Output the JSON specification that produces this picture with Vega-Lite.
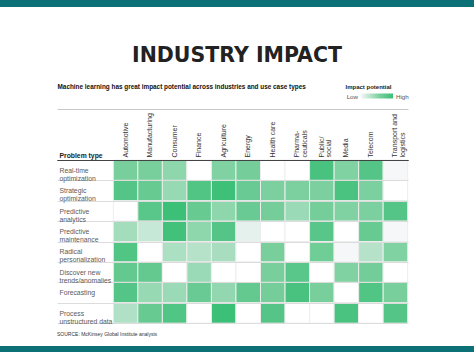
{
  "$schema": "https://vega.github.io/schema/vega-lite/v6.json",
  "width": 474,
  "height": 352,
  "padding": 0,
  "autosize": {"type": "none"},
  "background": "white",
  "config": {
    "view": {"stroke": null},
    "font": "Liberation Sans",
    "axis": {"labelFont": "Liberation Sans", "titleFont": "Liberation Sans"}
  },
  "datasets": {
    "impact": [
      {"problem": "Real-time optimization", "industry": "Automotive", "impact": 3},
      {"problem": "Real-time optimization", "industry": "Manufacturing", "impact": 3},
      {"problem": "Real-time optimization", "industry": "Consumer", "impact": 2.5},
      {"problem": "Real-time optimization", "industry": "Finance", "impact": 0},
      {"problem": "Real-time optimization", "industry": "Agriculture", "impact": 2.8},
      {"problem": "Real-time optimization", "industry": "Energy", "impact": 3.1},
      {"problem": "Real-time optimization", "industry": "Health care", "impact": 0},
      {"problem": "Real-time optimization", "industry": "Pharmaceuticals", "impact": 0},
      {"problem": "Real-time optimization", "industry": "Public/social", "impact": 4.6},
      {"problem": "Real-time optimization", "industry": "Media", "impact": 2.8},
      {"problem": "Real-time optimization", "industry": "Telecom", "impact": 4.2},
      {"problem": "Real-time optimization", "industry": "Transport and logistics", "impact": 0.1},
      {"problem": "Strategic optimization", "industry": "Automotive", "impact": 4.2},
      {"problem": "Strategic optimization", "industry": "Manufacturing", "impact": 3.6},
      {"problem": "Strategic optimization", "industry": "Consumer", "impact": 2.3},
      {"problem": "Strategic optimization", "industry": "Finance", "impact": 4.3},
      {"problem": "Strategic optimization", "industry": "Agriculture", "impact": 4.9},
      {"problem": "Strategic optimization", "industry": "Energy", "impact": 3.5},
      {"problem": "Strategic optimization", "industry": "Health care", "impact": 2.9},
      {"problem": "Strategic optimization", "industry": "Pharmaceuticals", "impact": 2.9},
      {"problem": "Strategic optimization", "industry": "Public/social", "impact": 2.9},
      {"problem": "Strategic optimization", "industry": "Media", "impact": 4.5},
      {"problem": "Strategic optimization", "industry": "Telecom", "impact": 2.9},
      {"problem": "Strategic optimization", "industry": "Transport and logistics", "impact": 0},
      {"problem": "Predictive analytics", "industry": "Automotive", "impact": 0},
      {"problem": "Predictive analytics", "industry": "Manufacturing", "impact": 4},
      {"problem": "Predictive analytics", "industry": "Consumer", "impact": 5},
      {"problem": "Predictive analytics", "industry": "Finance", "impact": 3.6},
      {"problem": "Predictive analytics", "industry": "Agriculture", "impact": 2.5},
      {"problem": "Predictive analytics", "industry": "Energy", "impact": 3.5},
      {"problem": "Predictive analytics", "industry": "Health care", "impact": 3.1},
      {"problem": "Predictive analytics", "industry": "Pharmaceuticals", "impact": 2.2},
      {"problem": "Predictive analytics", "industry": "Public/social", "impact": 3.1},
      {"problem": "Predictive analytics", "industry": "Media", "impact": 2.8},
      {"problem": "Predictive analytics", "industry": "Telecom", "impact": 2.9},
      {"problem": "Predictive analytics", "industry": "Transport and logistics", "impact": 4.2},
      {"problem": "Predictive maintenance", "industry": "Automotive", "impact": 2},
      {"problem": "Predictive maintenance", "industry": "Manufacturing", "impact": 1.2},
      {"problem": "Predictive maintenance", "industry": "Consumer", "impact": 4.8},
      {"problem": "Predictive maintenance", "industry": "Finance", "impact": 2.5},
      {"problem": "Predictive maintenance", "industry": "Agriculture", "impact": 4.2},
      {"problem": "Predictive maintenance", "industry": "Energy", "impact": 0.5},
      {"problem": "Predictive maintenance", "industry": "Health care", "impact": 0},
      {"problem": "Predictive maintenance", "industry": "Pharmaceuticals", "impact": 0},
      {"problem": "Predictive maintenance", "industry": "Public/social", "impact": 4.1},
      {"problem": "Predictive maintenance", "industry": "Media", "impact": 0},
      {"problem": "Predictive maintenance", "industry": "Telecom", "impact": 3.6},
      {"problem": "Predictive maintenance", "industry": "Transport and logistics", "impact": 0.1},
      {"problem": "Radical personalization", "industry": "Automotive", "impact": 4.3},
      {"problem": "Radical personalization", "industry": "Manufacturing", "impact": 0},
      {"problem": "Radical personalization", "industry": "Consumer", "impact": 1.8},
      {"problem": "Radical personalization", "industry": "Finance", "impact": 1.6},
      {"problem": "Radical personalization", "industry": "Agriculture", "impact": 1.9},
      {"problem": "Radical personalization", "industry": "Energy", "impact": 0},
      {"problem": "Radical personalization", "industry": "Health care", "impact": 3},
      {"problem": "Radical personalization", "industry": "Pharmaceuticals", "impact": 0},
      {"problem": "Radical personalization", "industry": "Public/social", "impact": 3.3},
      {"problem": "Radical personalization", "industry": "Media", "impact": 0.1},
      {"problem": "Radical personalization", "industry": "Telecom", "impact": 1.6},
      {"problem": "Radical personalization", "industry": "Transport and logistics", "impact": 2.8},
      {"problem": "Discover new trends/anomalies", "industry": "Automotive", "impact": 3.7},
      {"problem": "Discover new trends/anomalies", "industry": "Manufacturing", "impact": 3.7},
      {"problem": "Discover new trends/anomalies", "industry": "Consumer", "impact": 0},
      {"problem": "Discover new trends/anomalies", "industry": "Finance", "impact": 2.2},
      {"problem": "Discover new trends/anomalies", "industry": "Agriculture", "impact": 0},
      {"problem": "Discover new trends/anomalies", "industry": "Energy", "impact": 0},
      {"problem": "Discover new trends/anomalies", "industry": "Health care", "impact": 3},
      {"problem": "Discover new trends/anomalies", "industry": "Pharmaceuticals", "impact": 4},
      {"problem": "Discover new trends/anomalies", "industry": "Public/social", "impact": 0},
      {"problem": "Discover new trends/anomalies", "industry": "Media", "impact": 2.8},
      {"problem": "Discover new trends/anomalies", "industry": "Telecom", "impact": 3.2},
      {"problem": "Discover new trends/anomalies", "industry": "Transport and logistics", "impact": 0},
      {"problem": "Forecasting", "industry": "Automotive", "impact": 4.2},
      {"problem": "Forecasting", "industry": "Manufacturing", "impact": 2.3},
      {"problem": "Forecasting", "industry": "Consumer", "impact": 2.2},
      {"problem": "Forecasting", "industry": "Finance", "impact": 3.5},
      {"problem": "Forecasting", "industry": "Agriculture", "impact": 2.4},
      {"problem": "Forecasting", "industry": "Energy", "impact": 3.7},
      {"problem": "Forecasting", "industry": "Health care", "impact": 3.1},
      {"problem": "Forecasting", "industry": "Pharmaceuticals", "impact": 4.6},
      {"problem": "Forecasting", "industry": "Public/social", "impact": 3},
      {"problem": "Forecasting", "industry": "Media", "impact": 0},
      {"problem": "Forecasting", "industry": "Telecom", "impact": 4.3},
      {"problem": "Forecasting", "industry": "Transport and logistics", "impact": 3},
      {"problem": "Process unstructured data", "industry": "Automotive", "impact": 1.7},
      {"problem": "Process unstructured data", "industry": "Manufacturing", "impact": 3.6},
      {"problem": "Process unstructured data", "industry": "Consumer", "impact": 4.3},
      {"problem": "Process unstructured data", "industry": "Finance", "impact": 0},
      {"problem": "Process unstructured data", "industry": "Agriculture", "impact": 5},
      {"problem": "Process unstructured data", "industry": "Energy", "impact": 0},
      {"problem": "Process unstructured data", "industry": "Health care", "impact": 4.2},
      {"problem": "Process unstructured data", "industry": "Pharmaceuticals", "impact": 0},
      {"problem": "Process unstructured data", "industry": "Public/social", "impact": 0},
      {"problem": "Process unstructured data", "industry": "Media", "impact": 4.5},
      {"problem": "Process unstructured data", "industry": "Telecom", "impact": 0},
      {"problem": "Process unstructured data", "industry": "Transport and logistics", "impact": 4.2}
    ],
    "header": [{"section": "Column headers"}]
  },
  "resolve": {
    "scale": {"x": "independent", "y": "independent"},
    "axis": {"x": "independent", "y": "independent"}
  },
  "layer": [
    {
      "data": {"name": "impact"},
      "mark": {"type": "rect", "stroke": "#eceeed", "strokeWidth": 1},
      "encoding": {
        "x": {
          "field": "industry", "type": "nominal",
          "scale": {"domain": ["Automotive", "Manufacturing", "Consumer", "Finance", "Agriculture", "Energy", "Health care", "Pharmaceuticals", "Public/social", "Media", "Telecom", "Transport and logistics"], "range": [113.3, 407.7], "paddingInner": 0, "paddingOuter": 0},
          "axis": {
            "orient": "top", "offset": -160, "domain": false, "ticks": false,
            "labelAngle": -90, "labelAlign": "left", "labelBaseline": "middle",
            "labelPadding": 3, "labelFontSize": 7, "labelColor": "#333333", "labelLineHeight": 7.5,
            "labelExpr": "datum.label == 'Pharmaceuticals' ? ['Pharma-', 'ceuticals'] : datum.label == 'Public/social' ? ['Public/', 'social'] : datum.label == 'Transport and logistics' ? ['Transport and', 'logistics'] : datum.label",
            "title": null, "zindex": 1
          }
        },
        "y": {
          "field": "problem", "type": "nominal",
          "scale": {"domain": ["Real-time optimization", "Strategic optimization", "Predictive analytics", "Predictive maintenance", "Radical personalization", "Discover new trends/anomalies", "Forecasting", "Process unstructured data"], "range": [160, 323.2], "paddingInner": 0, "paddingOuter": 0},
          "axis": {
            "orient": "left", "offset": -408, "domain": false, "grid": false,
            "ticks": true, "tickSize": 351, "tickBand": "extent", "tickWidth": 1,
            "tickColor": {"condition": {"test": "datum.index < 0", "value": "#444444"}, "value": "#dcdcdc"},
            "labelAlign": "left", "labelBaseline": "middle", "labelPadding": -2,
            "labelFontSize": 6.8, "labelColor": "#5a5a5a", "labelLineHeight": 8,
            "labelExpr": "datum.label == 'Discover new trends/anomalies' ? ['Discover new', 'trends/anomalies'] : datum.label == 'Process unstructured data' ? ['Process', 'unstructured data'] : split(datum.label, ' ')",
            "title": "Problem type", "titleAngle": 0, "titleX": -349, "titleY": 157,
            "titleAlign": "left", "titleBaseline": "alphabetic", "titleFontSize": 6.8,
            "titleFontWeight": "bold", "titleColor": "#222222", "zindex": 1
          }
        },
        "color": {
          "field": "impact", "type": "quantitative",
          "scale": {"type": "linear", "domain": [0, 0.1, 3, 5], "range": ["#ffffff", "#f6f7f9", "#78cf9c", "#3cbf77"], "interpolate": "rgb", "zero": false, "nice": false, "clamp": true},
          "legend": {
            "orient": "none", "legendX": 360, "legendY": 93.5, "direction": "horizontal",
            "title": null, "padding": 0,
            "gradientLength": 33, "gradientThickness": 5, "gradientStrokeWidth": 0,
            "values": [0, 5], "labelExpr": "''", "labelOpacity": 0
          }
        }
      }
    },
    {
      "data": {"name": "impact"},
      "mark": {"type": "rect", "opacity": 0},
      "encoding": {
        "x": {
          "field": "industry", "type": "nominal",
          "axis": {
            "orient": "top", "offset": -3.5, "translate": 0, "domain": true,
            "domainColor": "#0c7177", "domainWidth": 7, "ticks": false, "labels": false, "grid": false,
            "title": "INDUSTRY IMPACT", "titleX": 237, "titleY": 58.5, "titleAlign": "center",
            "titleBaseline": "alphabetic", "titleAngle": 0, "titleFont": "DejaVu Sans",
            "titleFontSize": 20.5, "titleFontWeight": "bold", "titleColor": "#222222"
          }
        },
        "y": {
          "field": "problem", "type": "nominal",
          "axis": {
            "orient": "left", "offset": 0, "domain": false, "ticks": false, "labels": false, "grid": false,
            "title": "Low", "titleX": 357.5, "titleY": 98.5, "titleAlign": "right",
            "titleBaseline": "alphabetic", "titleAngle": 0, "titleFontSize": 6.2,
            "titleFontWeight": "normal", "titleColor": "#555555"
          }
        }
      }
    },
    {
      "data": {"name": "impact"},
      "mark": {"type": "rect", "opacity": 0},
      "encoding": {
        "x": {
          "field": "industry", "type": "nominal",
          "axis": {
            "orient": "bottom", "offset": -3, "translate": 0, "domain": true,
            "domainColor": "#0c7177", "domainWidth": 6, "ticks": false, "labels": false, "grid": false,
            "title": "SOURCE:  McKinsey Global Institute analysis", "titleX": 57, "titleY": -13,
            "titleAlign": "left", "titleBaseline": "alphabetic", "titleAngle": 0,
            "titleFontSize": 5, "titleFontWeight": "normal", "titleColor": "#333333"
          }
        },
        "y": {
          "field": "problem", "type": "nominal",
          "axis": {
            "orient": "left", "offset": 0, "domain": false, "ticks": false, "labels": false, "grid": false,
            "title": "High", "titleX": 395.5, "titleY": 98.5, "titleAlign": "left",
            "titleBaseline": "alphabetic", "titleAngle": 0, "titleFontSize": 6.2,
            "titleFontWeight": "normal", "titleColor": "#555555"
          }
        }
      }
    },
    {
      "data": {"name": "header"},
      "mark": {"type": "rect", "opacity": 0},
      "encoding": {
        "x": {
          "field": "section", "type": "nominal",
          "axis": {
            "orient": "top", "offset": 0, "domain": false, "ticks": false, "labels": false, "grid": false,
            "title": "Impact potential", "titleX": 345, "titleY": 88.5, "titleAlign": "left",
            "titleBaseline": "alphabetic", "titleAngle": 0, "titleFontSize": 6,
            "titleFontWeight": "bold", "titleColor": "#222222"
          }
        },
        "y": {
          "field": "section", "type": "nominal",
          "scale": {"domain": ["Column headers"], "range": [109, 160], "paddingInner": 0, "paddingOuter": 0},
          "axis": {
            "orient": "left", "offset": -408, "domain": false, "labels": false, "grid": false,
            "ticks": true, "tickSize": 351, "tickBand": "extent", "tickWidth": 1,
            "tickColor": {"condition": {"test": "datum.index < 0", "value": "#c8c8c8"}, "value": "#444444"},
            "title": "Machine learning has great impact potential across industries and use case types",
            "titleAngle": 0, "titleX": -351, "titleY": 88, "titleAlign": "left",
            "titleBaseline": "alphabetic", "titleFontSize": 6.4, "titleFontWeight": "bold",
            "titleColor": "#111111", "zindex": 1
          }
        }
      }
    }
  ]
}
